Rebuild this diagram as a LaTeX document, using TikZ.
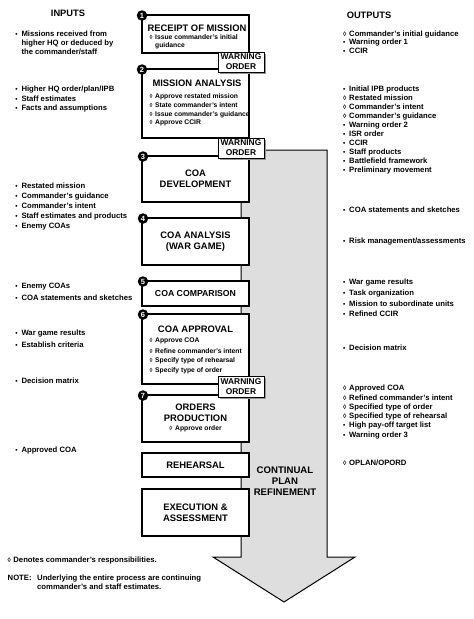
\documentclass[tikz,border=0pt]{standalone}
\usepackage{fontspec}
\setmainfont{Liberation Sans}
\usetikzlibrary{shadows}
\definecolor{arrowgray}{RGB}{222,222,222}
\definecolor{shadowgray}{RGB}{150,150,150}
\newcommand\mybul{\makebox[6pt][l]{\raisebox{0.2pt}{\fontsize{6.5}{8}\selectfont•}}}
\newcommand\mydia{\makebox[6pt][l]{\fontsize{6.5}{8}\selectfont◊}}
\newcommand\mydiaS{\makebox[5.5pt][l]{\fontsize{6}{8}\selectfont◊}}
\newcommand\myind{\makebox[6pt][l]{}}
\begin{document}
\begin{tikzpicture}[x=1pt,y=-1pt,
  lst/.style={anchor=west, inner sep=0, text height=5.5pt, text depth=1.6pt, font=\fontsize{7.7}{9}\selectfont\bfseries},
  sub/.style={anchor=west, inner sep=0, text height=4.9pt, text depth=1.4pt, font=\fontsize{6.75}{8}\selectfont\bfseries},
  ttl/.style={inner sep=0, align=center, font=\fontsize{9.4}{10.8}\selectfont\bfseries},
  hdr/.style={inner sep=0, font=\fontsize{9.3}{11}\selectfont\bfseries},
  box/.style={draw, fill=white, line width=1.1pt, minimum width=107pt, inner sep=0, align=center, font=\fontsize{9.4}{10.8}\selectfont\bfseries},
  warn/.style={draw, fill=white, line width=0.9pt, minimum width=46pt, minimum height=20pt, inner sep=0, align=center,
    font=\fontsize{8.4}{9.8}\selectfont\bfseries,
    drop shadow={shadow xshift=1.6pt, shadow yshift=-1.6pt, fill=shadowgray, opacity=1}},
  num/.style={circle, fill=black, text=white, minimum size=10.5pt, inner sep=0, font=\fontsize{7.5}{8}\selectfont\bfseries},
]
\useasboundingbox (0,0) rectangle (474,619);

% big arrow
\draw[fill=arrowgray, line width=1pt, line join=miter]
  (241,150) -- (327,150) -- (327,557) -- (355,557) -- (284,602) -- (213,557) -- (241,557) -- cycle;

% headers
\node[hdr] (inputs) at (68,13) {INPUTS};
\node[hdr] (outputs) at (369,15) {OUTPUTS};

% boxes
\node[box, minimum height=38pt] (b1) at (195.5,34) {};
\node[box, minimum height=69pt] (b2) at (195.5,103.5) {};
\node[box, minimum height=46pt] (b3) at (195.5,179) {COA\\DEVELOPMENT};
\node[box, minimum height=47pt] (b4) at (195.5,241.5) {COA ANALYSIS\\(WAR GAME)};
\node[box, minimum height=25pt, font=\fontsize{8.7}{10}\selectfont\bfseries] (b5) at (195.5,293.5) {COA COMPARISON};
\node[box, minimum height=70pt] (b6) at (195.5,349) {};
\node[box, minimum height=47pt] (b7) at (195.5,418.5) {};
\node[box, minimum height=24pt] (b8) at (195.5,465) {REHEARSAL};
\node[box, minimum height=47pt] (b9) at (195.5,512.5) {EXECUTION \&\\ASSESSMENT};

% box contents
\node[ttl] (t1) at (197,28) {RECEIPT OF MISSION};
\node[sub] (s1a) at (149.5,38) {\mydiaS Issue commander's initial};
\node[sub] (s1b) at (149.5,46) {\makebox[5.5pt][l]{}guidance};

\node[ttl] (t2) at (197,83) {MISSION ANALYSIS};
\foreach \y/\t [count=\i] in {97/{Approve restated mission},106/{State commander's intent},114.5/{Issue commander's guidance},123/{Approve CCIR}}
  \node[sub] (s2-\i) at (149.5,\y) {\mydiaS\t};

\node[ttl] (t6) at (195.5,329) {COA APPROVAL};
\foreach \y/\t [count=\i] in {341/{Approve COA},351.5/{Refine commander's intent},361/{Specify type of rehearsal},371/{Specify type of order}}
  \node[sub] (s6-\i) at (149.5,\y) {\mydiaS\t};

\node[ttl] (t7) at (195.5,413) {ORDERS\\PRODUCTION};
\node[sub, anchor=center] (s7) at (195.5,429) {{\fontsize{6}{8}\selectfont◊}\hspace{3pt}Approve order};

% numbers
\node[num] (n1) at (142,15.5) {1};
\node[num] (n2) at (142,69.5) {2};
\node[num] (n3) at (143,156.5) {3};
\node[num] (n4) at (143,218.5) {4};
\node[num] (n5) at (143,281.5) {5};
\node[num] (n6) at (143,314.5) {6};
\node[num] (n7) at (143,395.5) {7};

% warning orders
\node[warn] (w1) at (241,62) {WARNING\\ORDER};
\node[warn] (w2) at (241,148) {WARNING\\ORDER};
\node[warn, minimum height=21pt] (w3) at (241,386.5) {WARNING\\ORDER};

% continual plan refinement
\node[inner sep=0, align=center, font=\fontsize{9.6}{11}\selectfont\bfseries] (cpr) at (285,481) {CONTINUAL\\PLAN\\REFINEMENT};

% inputs
\node[lst] (ia1) at (15.3,35) {\mybul Missions received from};
\node[lst] (ia2) at (15.3,44) {\myind higher HQ or deduced by};
\node[lst] (ia3) at (15.3,53) {\myind the commander/staff};
\foreach \y/\t [count=\i] in {90/{Higher HQ order/plan/IPB},100/{Staff estimates},109/{Facts and assumptions},
  187/{Restated mission},196.5/{Commander's guidance},207/{Commander's intent},217/{Staff estimates and products},227/{Enemy COAs},
  287/{Enemy COAs},299/{COA statements and sketches},
  334/{War game results},346/{Establish criteria},
  382/{Decision matrix},
  451/{Approved COA}}
  \node[lst] (in-\i) at (15.3,\y) {\mybul\t};

% outputs
\foreach \y/\t [count=\i] in {34.5/{\mydia Commander's initial guidance},43/{\mybul Warning order 1},51.5/{\mybul CCIR},
  90/{\mybul Initial IPB products},99/{\mydia Restated mission},108/{\mydia Commander's intent},117/{\mydia Commander's guidance},
  126/{\mybul Warning order 2},135/{\mybul ISR order},144/{\mybul CCIR},153/{\mybul Staff products},162/{\mybul Battlefield framework},171/{\mybul Preliminary movement},
  211/{\mybul COA statements and sketches},
  242/{\mybul Risk management/assessments},
  283/{\mybul War game results},294/{\mybul Task organization},305/{\mybul Mission to subordinate units},315/{\mybul Refined CCIR},
  349/{\mybul Decision matrix},
  389/{\mydia Approved COA},399/{\mydia Refined commander's intent},408/{\mydia Specified type of order},417/{\mydia Specified type of rehearsal},426/{\mybul High pay-off target list},436/{\mybul Warning order 3},
  464/{\mydia OPLAN/OPORD}}
  \node[lst] (out-\i) at (343,\y) {\t};

% notes
\node[lst] (leg) at (7.5,561) {{\fontsize{6.5}{8}\selectfont◊}\hspace{2.5pt}Denotes commander's responsibilities.};
\node[lst] (note) at (7.5,579) {NOTE:};
\node[lst] (note1) at (37,579) {Underlying the entire process are continuing};
\node[lst] (note2) at (37,588) {commander's and staff estimates.};
\end{tikzpicture}
\end{document}
